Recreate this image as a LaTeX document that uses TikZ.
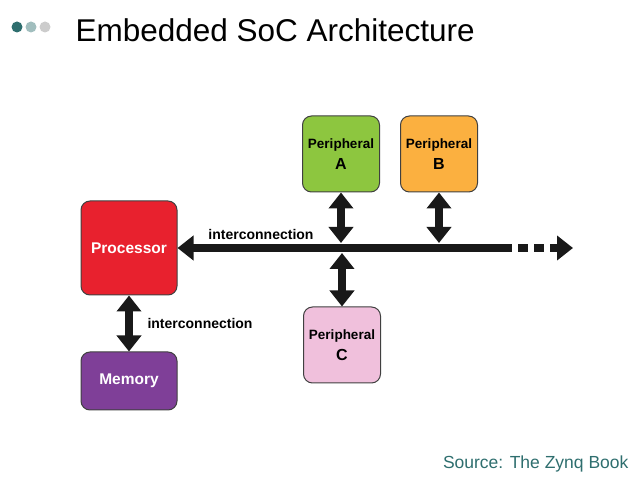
\documentclass[tikz,border=0pt]{standalone}
\usepackage{fontspec}
\setmainfont{Liberation Sans}
\usetikzlibrary{arrows.meta}
\definecolor{procred}{HTML}{E8212E}
\definecolor{mempurple}{HTML}{7F3F98}
\definecolor{pgreen}{HTML}{8DC63F}
\definecolor{porange}{HTML}{FBB040}
\definecolor{ppink}{HTML}{F0C0DC}
\definecolor{teal}{HTML}{2E6E6E}
\begin{document}
\begin{tikzpicture}[x=1pt, y=-1pt, >={Triangle[width=24pt,length=16pt]},
    block/.style={draw=black!75, line width=1pt, rounded corners=9pt, align=center, font=\bfseries},
    link/.style={<->, line width=8pt, black!90}]
                \useasboundingbox (0,0) rectangle (638,478);
                \fill[teal] (17,27) circle (5.5);
                \fill[teal!45] (31,27) circle (5.5);
                \fill[black!20] (45,27) circle (5.5);
                \node[anchor=west, font=\fontsize{31.5}{34}\selectfont] (title) at (72,30) {Embedded SoC Architecture};

                \node[block, fill=procred, text=white, minimum width=96pt, minimum height=94pt, font=\bfseries\fontsize{15.5}{18}\selectfont] (proc) at (129,248) {Processor};
                \node[block, fill=mempurple, text=white, minimum width=96pt, minimum height=58pt, font=\bfseries\fontsize{15.5}{18}\selectfont] (mem) at (129,381) {Memory};
                \node[block, fill=pgreen, minimum width=77pt, minimum height=76pt, font=\bfseries\fontsize{13.5}{21}\selectfont] (pa) at (341,154) {Peripheral\\{\fontsize{16}{17}\selectfont A}};
                \node[block, fill=porange, minimum width=77pt, minimum height=76pt, font=\bfseries\fontsize{13.5}{21}\selectfont] (pb) at (439,154) {Peripheral\\{\fontsize{16}{17}\selectfont B}};
                \node[block, fill=ppink, minimum width=77pt, minimum height=76pt, font=\bfseries\fontsize{13.5}{21}\selectfont] (pc) at (342,345) {Peripheral\\{\fontsize{16}{17}\selectfont C}};

                \coordinate (busend) at (512,248);
                \coordinate (bustip) at (573,248);
                \coordinate (ja) at (341,243);
                \coordinate (jb) at (439,243);
                \coordinate (jc) at (342,253);

                \draw[line width=8pt, black!90, <-] (proc.east) -- (busend);
                \draw[line width=8pt, black!90, dash pattern=on 10pt off 6pt, ->] (518,248) -- (bustip);
                \draw[link] (pa.south) -- (ja);
                \draw[link] (pb.south) -- (jb);
                \draw[link] (jc) -- (pc.north);
                \draw[link] (proc.south) -- (mem.north);

                \node[font=\bfseries\fontsize{14}{16}\selectfont] (lbus) at (261,234) {interconnection};
                \node[anchor=west, font=\bfseries\fontsize{14}{16}\selectfont] (lmem) at (144,323) {interconnection};
                \node[anchor=east, text=teal, font=\fontsize{17.5}{20}\selectfont] (src) at (632,464) {Source: The Zynq Book};
            \end{tikzpicture}
\end{document}
